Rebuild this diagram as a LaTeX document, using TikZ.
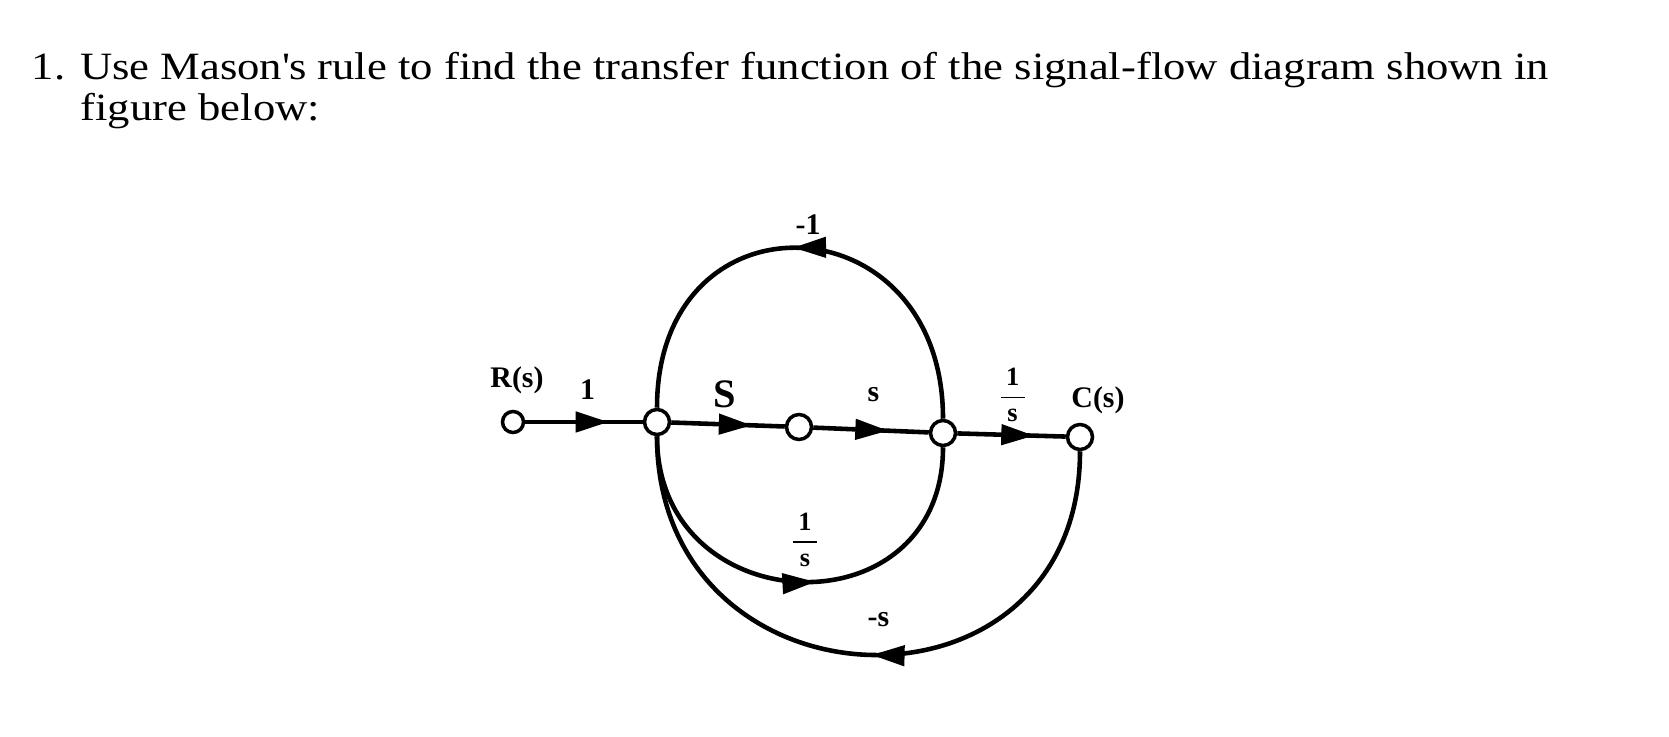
\documentclass[tikz,border=0pt]{standalone}
\usepackage{fontspec}
\setmainfont{Liberation Serif}
\newfontfamily\titlefont[FakeStretch=1.155]{Liberation Serif}
\usetikzlibrary{arrows.meta, decorations.markings}

\tikzset{
  signode/.style={draw, circle, line width=1pt, minimum size=0.25cm, inner sep=0pt, fill=white},
  flow/.style={line width=1.3pt, postaction={decorate},
    decoration={markings, mark=at position #1 with {\arrow{Triangle[length=3.3mm, width=2mm]}}}},
  flow/.default=0.5,
  gain/.style={font=\fontsize{8.5}{9}\selectfont\bfseries, inner sep=1pt},
  heading/.style={anchor=base west, inner sep=0pt, font=\titlefont\fontsize{11}{12}\selectfont},
}
\newcommand{\gainfrac}[2]{{\fontsize{7.5}{8}\selectfont$\displaystyle\frac{\makebox[2.4mm]{\bfseries #1}}{\mbox{\bfseries #2}}$}}

\begin{document}
\begin{tikzpicture}
    \useasboundingbox (0,0) rectangle (16.69,-7.37);

    \node[heading] (title1) at (0.31,-0.80) {1. Use Mason\textquotesingle s rule to find the transfer function of the signal-flow diagram shown in};
    \node[heading] (title2) at (0.80,-1.21) {figure below:};

    \node[signode, minimum size=0.21cm] (r) at (5.13,-4.22) {};
    \node[signode, right of=r, xshift=0.44cm] (n1) {};
    \node[signode, right of=n1, xshift=0.42cm, yshift=-0.05cm] (n2) {};
    \node[signode, right of=n2, xshift=0.44cm, yshift=-0.06cm] (n3) {};
    \node[signode, right of=n3, xshift=0.37cm, yshift=-0.04cm] (c) {};

    \node[gain, above of=r, yshift=-0.58cm, xshift=0.04cm] (rlabel) {R(s)};
    \node[gain, above of=c, yshift=-0.63cm, xshift=0.18cm] (clabel) {C(s)};

    \draw[flow=0.71] (r) -- node[gain, pos=0.53, yshift=0.32cm] {1} (n1);
    \draw[flow=0.71] (n1) -- node[gain, pos=0.47, yshift=0.30cm, font=\fontsize{11.5}{12}\selectfont\bfseries] {S} (n2);
    \draw[flow=0.65] (n2) -- node[gain, pos=0.52, yshift=0.35cm] {s} (n3);
    \draw[flow=0.71] (n3) -- node[gain, pos=0.51, yshift=0.40cm] {\gainfrac{1}{s}} (c);

    \draw[flow=0.52] (n3) to[out=90, in=90, looseness=1.97] node[gain, pos=0.5, yshift=0.23cm, xshift=0.08cm] {-1} (n1);
    \draw[flow=0.54] (n1) to[out=-90, in=-90, looseness=1.67] node[gain, pos=0.5, yshift=0.42cm, xshift=0.05cm] {\gainfrac{1}{s}} (n3);
    \draw[flow=0.49] (c) to[out=-90, in=-90, looseness=1.70] node[gain, pos=0.5, yshift=0.35cm, xshift=0.1cm] {-s} (n1);
\end{tikzpicture}
\end{document}
